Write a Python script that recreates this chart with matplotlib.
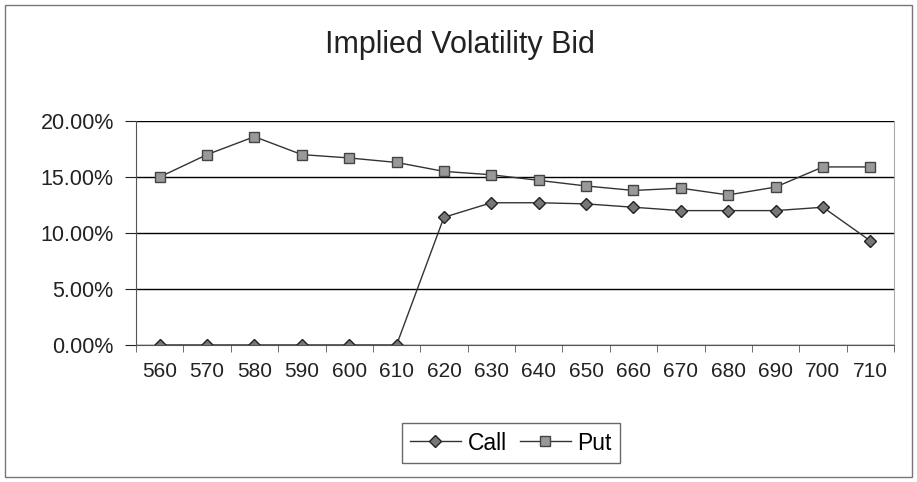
import matplotlib.pyplot as plt
from matplotlib.patches import Rectangle
from matplotlib.ticker import FuncFormatter

plt.rcParams['font.family'] = ['Liberation Sans', 'DejaVu Sans']

strikes = ['560', '570', '580', '590', '600', '610', '620', '630',
           '640', '650', '660', '670', '680', '690', '700', '710']
call_iv = [0.0, 0.0, 0.0, 0.0, 0.0, 0.0, 11.4, 12.7,
           12.7, 12.6, 12.3, 12.0, 12.0, 12.0, 12.3, 9.3]
put_iv = [15.0, 17.0, 18.6, 17.0, 16.7, 16.3, 15.5, 15.2,
          14.7, 14.2, 13.8, 14.0, 13.4, 14.1, 15.9, 15.9]

fig = plt.figure(figsize=(9.17, 4.82), dpi=100)
# outer chart border
fig.patches.append(Rectangle((5 / 917, 5 / 482), 907 / 917, 472 / 482,
                             transform=fig.transFigure, fill=False,
                             edgecolor='#777777', linewidth=1))

ax = fig.add_axes([136 / 917, 1 - 345 / 482, 758 / 917, 224 / 482])
x = list(range(len(strikes)))

ax.plot(x, call_iv, color='#333333', linewidth=1, marker='D', markersize=6,
        markerfacecolor='#777777', markeredgecolor='#222222', label='Call')
ax.plot(x, put_iv, color='#333333', linewidth=1, marker='s', markersize=7,
        markerfacecolor='#999999', markeredgecolor='#444444', label='Put')

ax.set_xlim(-0.5, len(strikes) - 0.5)
ax.set_ylim(0, 20)
ax.set_yticks([0, 5, 10, 15, 20])
ax.yaxis.set_major_formatter(FuncFormatter(lambda v, p: f'{v:.2f}%'))
ax.set_xticks(x)
ax.set_xticklabels(strikes)
ax.set_xticks([i - 0.5 for i in range(len(strikes) + 1)], minor=True)
ax.tick_params(axis='y', labelsize=15.5, colors='#222222', length=8, pad=8)
ax.tick_params(axis='x', which='major', labelsize=15, colors='#222222',
               length=0, pad=12)
ax.tick_params(axis='x', which='minor', length=5, color='#555555')
ax.grid(True, axis='y', color='black', linewidth=1)
ax.set_axisbelow(True)
ax.spines['top'].set_visible(False)
ax.spines['right'].set_color('#aaaaaa')
ax.spines['left'].set_color('#555555')
ax.spines['bottom'].set_color('#555555')

fig.text(460 / 917, 1 - 45 / 482, 'Implied Volatility Bid', ha='center',
         va='center', fontsize=22, color='#222222')

leg = fig.legend(loc='center', bbox_to_anchor=(511 / 917, 1 - 443 / 482),
                 ncol=2, fontsize=16.5, frameon=True, fancybox=False,
                 handlelength=2.2, columnspacing=0.6, handletextpad=0.3,
                 borderpad=0.35)
leg.get_frame().set_edgecolor('#444444')
leg.get_frame().set_linewidth(1)

fig.savefig('out.png', dpi=100)
